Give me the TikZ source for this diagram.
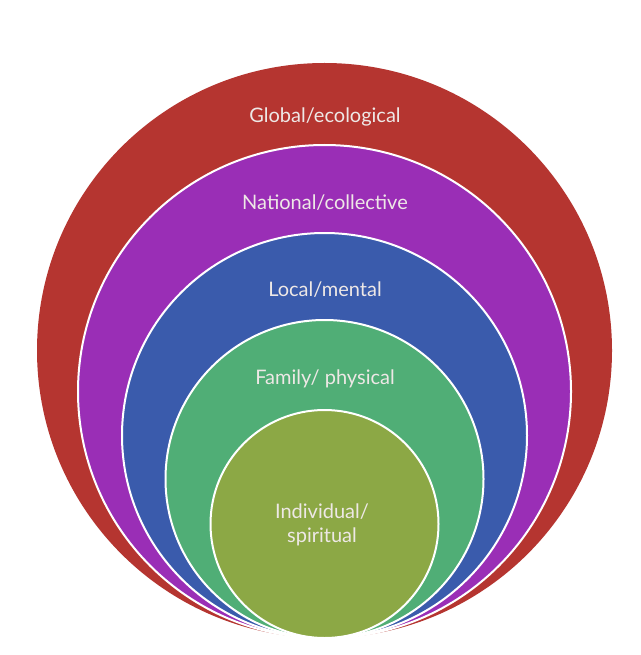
\documentclass[tikz,border=0pt]{standalone}
\usepackage{fontspec}
\setmainfont{Lato}
\definecolor{cred}{RGB}{181,53,48}
\definecolor{cpurple}{RGB}{154,46,182}
\definecolor{cblue}{RGB}{58,91,172}
\definecolor{cgreen}{RGB}{80,174,118}
\definecolor{colive}{RGB}{140,168,69}
\definecolor{ctext}{RGB}{238,232,230}
\begin{document}
\begin{tikzpicture}[x=1pt,y=-1pt,
  ring/.style={draw=white,line width=2pt},
  lbl/.style={text=ctext,font=\fontsize{20}{24}\selectfont,align=center}]
\useasboundingbox (0,0) rectangle (640,655);
\fill[white] (0,0) rectangle (640,655);
\path[fill=cred] (324.5,350.5) circle[radius=287.5];
\path[ring,fill=cpurple] (324.5,391.5) circle[radius=246.5];
\path[ring,fill=cblue] (324.5,435.5) circle[radius=202.5];
\path[ring,fill=cgreen] (324.5,479) circle[radius=159];
\path[ring,fill=colive] (324.5,524) circle[radius=114];
\node[lbl] (g) at (325,117) {Global/ecological};
\node[lbl] (n) at (325,203) {National/collective};
\node[lbl] (l) at (325,290) {Local/mental};
\node[lbl] (f) at (325,379) {Family/ physical};
\node[lbl] (i) at (322,525) {Individual/\\spiritual};
\end{tikzpicture}
\end{document}
